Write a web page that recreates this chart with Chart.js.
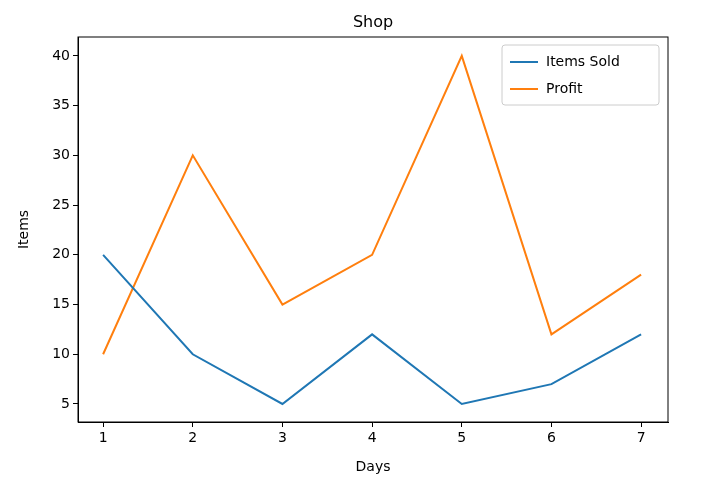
<!DOCTYPE html>
<html>
<head>
<meta charset="utf-8">
<script src="https://cdn.jsdelivr.net/npm/chart.js@4"></script>
<style>
  body { margin: 0; background: #fff; }
  #wrap { width: 727px; height: 486px; }
</style>
</head>
<body>
<div id="wrap"><canvas id="chart" width="727" height="486"></canvas></div>
<script>
// data
const days = [1, 2, 3, 4, 5, 6, 7];
const itemsSold = [20, 10, 5, 12, 5, 7, 12];
const profit = [10, 30, 15, 20, 40, 12, 18];
const yTicks = [5, 10, 15, 20, 25, 30, 35, 40];

const FONT = "'DejaVu Sans', sans-serif";

// box around the plot, title and the legend inside the axes
const frame = {
    id: "frame",
    afterDraw(chart) {
        const ctx = chart.ctx;
        const a = chart.chartArea;
        ctx.save();
        ctx.strokeStyle = "#000";
        ctx.lineWidth = 1;
        ctx.strokeRect(a.left, a.top, a.right - a.left, a.bottom - a.top);

        ctx.fillStyle = "#000";
        ctx.font = "16px " + FONT;
        ctx.textAlign = "center";
        ctx.textBaseline = "alphabetic";
        ctx.fillText("Shop", (a.left + a.right) / 2, 27);

        // legend
        const lx = 502, ly = 45, lw = 157, lh = 60;
        ctx.strokeStyle = "#ccc";
        ctx.fillStyle = "rgba(255,255,255,0.8)";
        ctx.beginPath();
        ctx.roundRect(lx, ly, lw, lh, 3);
        ctx.fill();
        ctx.stroke();
        ctx.font = "14px " + FONT;
        ctx.textAlign = "left";
        ctx.textBaseline = "middle";
        chart.data.datasets.forEach((ds, i) => {
            const y = ly + 17 + i * 27;
            ctx.strokeStyle = ds.borderColor;
            ctx.lineWidth = 2;
            ctx.beginPath();
            ctx.moveTo(lx + 8, y);
            ctx.lineTo(lx + 36, y);
            ctx.stroke();
            ctx.fillStyle = "#000";
            ctx.fillText(ds.label, lx + 44, y);
        });
        ctx.restore();
    }
};

new Chart(document.getElementById("chart"), {
    type: "line",
    data: {
        datasets: [
            {
                label: "Items Sold",
                data: days.map((d, i) => ({ x: d, y: itemsSold[i] })),
                borderColor: "#1f77b4",
                borderWidth: 2,
                pointRadius: 0,
                tension: 0
            },
            {
                label: "Profit",
                data: days.map((d, i) => ({ x: d, y: profit[i] })),
                borderColor: "#ff7f0e",
                borderWidth: 2,
                pointRadius: 0,
                tension: 0
            }
        ]
    },
    options: {
        responsive: false,
        animation: false,
        layout: { padding: { top: 37, right: 59, left: 16, bottom: 10 } },
        plugins: {
            legend: { display: false },
            title: { display: false },
            tooltip: { enabled: false }
        },
        scales: {
            x: {
                type: "linear",
                min: 0.72,
                max: 7.3,
                afterFit: s => { s.height = 54; },
                afterBuildTicks: s => { s.ticks = days.map(v => ({ value: v })); },
                grid: { display: true, drawOnChartArea: false, color: "#000", tickLength: 5 },
                border: { color: "#000" },
                ticks: { color: "#000", font: { family: FONT, size: 14 }, padding: 3 },
                title: { display: true, text: "Days", color: "#000", font: { family: FONT, size: 14 }, padding: 0 }
            },
            y: {
                min: 3.19,
                max: 41.9,
                afterFit: s => { s.width = 62; },
                afterBuildTicks: s => { s.ticks = yTicks.map(v => ({ value: v })); },
                grid: { display: true, drawOnChartArea: false, color: "#000", tickLength: 5 },
                border: { color: "#000" },
                ticks: { color: "#000", font: { family: FONT, size: 14 }, padding: 3 },
                title: { display: true, text: "Items", color: "#000", font: { family: FONT, size: 14 }, padding: 0 }
            }
        }
    },
    plugins: [frame]
});
</script>
</body>
</html>
